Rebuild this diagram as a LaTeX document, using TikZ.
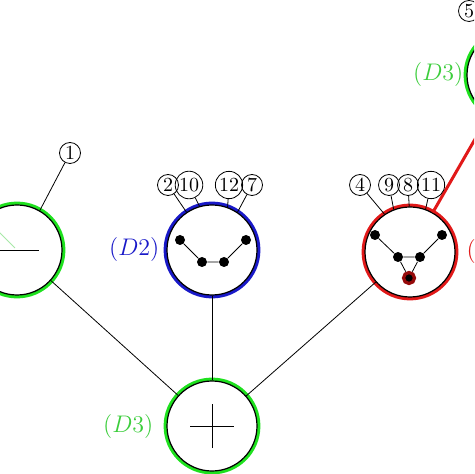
\documentclass[tikz,border=0pt]{standalone}
\usepackage{tikz}
\usetikzlibrary{positioning}

\definecolor{ringgreen}{RGB}{30,225,30}
\definecolor{labgreen}{RGB}{60,205,60}
\definecolor{ringblue}{RGB}{25,25,200}
\definecolor{ringred}{RGB}{225,25,25}
\definecolor{darkred}{RGB}{150,10,10}

\tikzset{
  ring/.style={circle, draw=black, line width=.6pt, fill=white, minimum size=45pt, inner sep=0pt,
    preaction={draw=#1, line width=3.4pt}},
  dot/.style={circle, fill=black, inner sep=0pt, minimum size=5pt},
  num/.style={circle, draw, thin, inner sep=.6pt, minimum size=10.5pt}
}

\begin{document}
\begin{tikzpicture}[x=.5pt,y=-.5pt]
        \useasboundingbox (0,0) rectangle (474,474);
        \clip (0,0) rectangle (474,474);

        % the big rings
        \node[ring=ringgreen] (L) at (17,250) {};
        \node[ring=ringblue]  (B) at (212,250) {};
        \node[ring=ringred]   (R) at (410,252) {};
        \node[ring=ringgreen] (C) at (212,426) {};
        \node[ring=ringgreen] (T) at (512,75) {};

        % labels
        \node[text=labgreen, left=3pt of C] {\large$(D3)$};
        \node[text=ringblue, left=0pt of B] {\large$(D2)$};
        \node[text=labgreen, left=-2pt of T] {\large$(D3)$};
        \node[text=ringred, right=2pt of R] {\large$(D1)$};

        % tree edges
        \begin{scope}[every edge/.style={draw, thin}]
          \path (L) edge (C);
          \path (B) edge (C);
          \path (R) edge (C);
        \end{scope}
        \draw[ringred, line width=1.5pt] (R) -- (T);

        % signs
        \draw ([xshift=-11pt]C.center) -- ([xshift=11pt]C.center);
        \draw ([yshift=-11pt]C.center) -- ([yshift=11pt]C.center);
        \draw ([xshift=-11pt]L.center) -- ([xshift=11pt]L.center);
        \draw[labgreen!45, thin] ([shift={(-11pt,11pt)}]L.center) -- ([shift={(-1pt,1pt)}]L.center);

        % numbered leaves
        \begin{scope}[every node/.style={num}]
          \node (1)  at (70,153) {1};
          \node (2)  at (168,185) {2};
          \node (10) at (189,185) {10};
          \node (12) at (229,185) {12};
          \node (7)  at (252,185) {7};
          \node (4)  at (360,185) {4};
          \node (9)  at (389,185) {9};
          \node (8)  at (408,185) {8};
          \node (11) at (431,185) {11};
          \node (5)  at (469,11) {5};
        \end{scope}

        \draw (1) -- (L.60);
        \draw (2) -- (B.124);
        \draw (10) -- (B.106);
        \draw (12) -- (B.70);
        \draw (7) -- (B.56);
        \draw (4) -- (R.124);
        \draw (9) -- (R.111);
        \draw (8) -- (R.91);
        \draw (11) -- (R.70);

        % graph inside D2
        \begin{scope}[every node/.style={dot}]
          \node (a1) at (180,240) {};
          \node (a2) at (202,262) {};
          \node (a3) at (224,262) {};
          \node (a4) at (246,240) {};
        \end{scope}
        \draw (a1) -- (a2) -- (a3) -- (a4);

        % graph inside D1
        \begin{scope}[every node/.style={dot}]
          \node (b1) at (375,235) {};
          \node (b2) at (398,257) {};
          \node (b3) at (420,257) {};
          \node (b4) at (442,235) {};
          \node[draw=darkred, line width=1.6pt, minimum size=5.5pt] (b5) at (409,278) {};
        \end{scope}
        \draw (b1) -- (b2) -- (b3) -- (b4);
        \draw (b2) -- (b5) -- (b3);

      \end{tikzpicture}
\end{document}
